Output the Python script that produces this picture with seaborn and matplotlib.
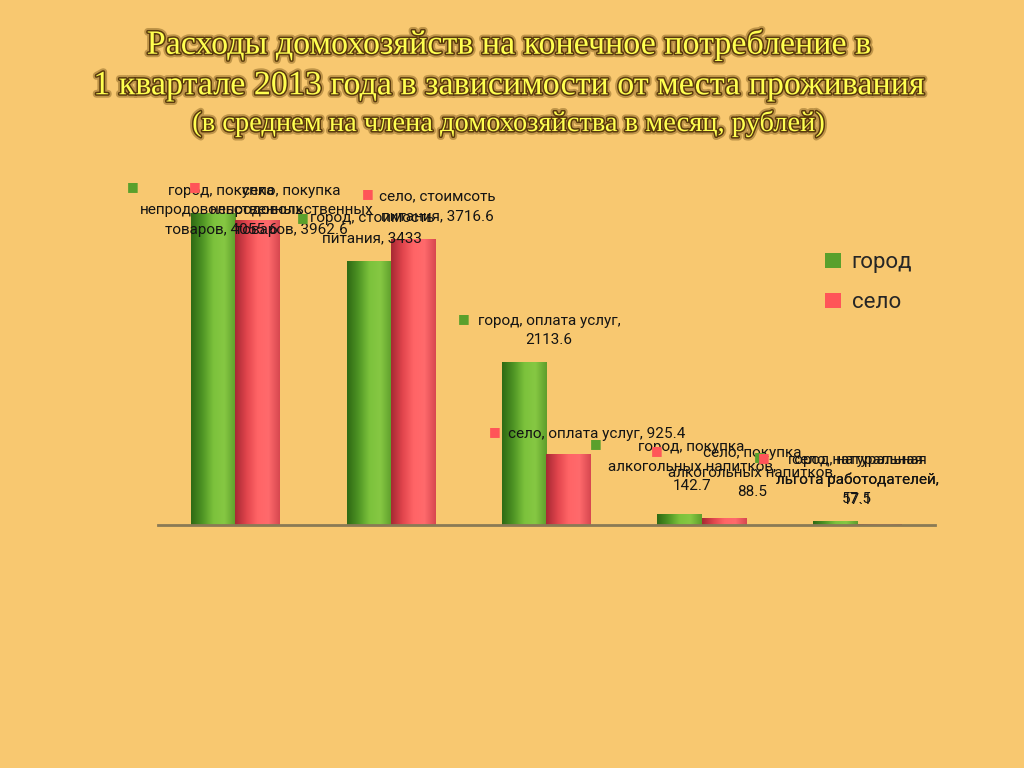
import numpy as np
import pandas as pd
import matplotlib
matplotlib.use("Agg")
import matplotlib.pyplot as plt
import matplotlib.patheffects as pe
from matplotlib.colors import LinearSegmentedColormap
import seaborn as sns

# ---------------- data ----------------
categories = ["непродовольственные товары", "питание", "услуги",
              "алкогольные напитки", "натуральная льгота"]
places = ["город", "село"]
gorod_values = [4055.6, 3433, 2113.6, 142.7, 57.5]
selo_values = [3962.6, 3716.6, 925.4, 88.5, 17.1]

gorod_labels = [
    "город, покупка\nнепродовольственных\nтоваров, {v}",
    "город, стоимость\nпитания, {v}",
    "город, оплата услуг,\n{v}",
    "город, покупка\nалкогольных напитков,\n{v}",
    "город, натуральная\nльгота работодателей,\n{v}",
]
selo_labels = [
    "село, покупка\nнепродовольственных\nтоваров, {v}",
    "село, стоимсоть\nпитания, {v}",
    "село, оплата услуг, {v}",
    "село, покупка\nалкогольных напитков,\n{v}",
    "село, натуральная\nльгота работодателей,\n{v}",
]

title_lines = ["Расходы домохозяйств на конечное потребление в",
               "1 квартале 2013 года в зависимости от места проживания"]
subtitle = "(в среднем на члена домохозяйства в месяц, рублей)"

# ---------------- style ----------------
BG = "#F8C870"
GREEN = "#5AA02C"
RED = "#FF5558"
sns.set_theme(style="white")
plt.rcParams["font.family"] = ["Roboto", "DejaVu Sans"]

df = pd.DataFrame({
    "category": categories * 2,
    "place": [places[0]] * len(categories) + [places[1]] * len(categories),
    "value": gorod_values + selo_values,
})

fig = plt.figure(figsize=(10.24, 7.68), dpi=100, facecolor=BG)
ax = fig.add_axes([0.154, 0.3164, 0.759, 0.4505])
ax.set_facecolor(BG)

sns.barplot(data=df, x="category", y="value", hue="place", order=categories,
            hue_order=places, palette=[GREEN, RED], width=0.57, ax=ax,
            saturation=1, edgecolor="none", linewidth=0)
ax.set_ylim(0, 4500)
ax.set_xlim(-0.5, len(categories) - 0.5)

# cylinder-like gradients
cm_green = LinearSegmentedColormap.from_list(
    "g", ["#2F6A14", "#4E9424", "#7CC23C", "#86C843", "#5E9E2C"])
cm_red = LinearSegmentedColormap.from_list(
    "r", ["#A82A34", "#E0444C", "#FF6466", "#FF6A6C", "#D84850"])
grad = np.linspace(0, 1, 64).reshape(1, -1)
for cont, cmap in zip(ax.containers, [cm_green, cm_red]):
    for p in cont:
        x0, w, h = p.get_x(), p.get_width(), p.get_height()
        im = ax.imshow(grad, extent=[x0, x0 + w, 0, h], aspect="auto",
                       cmap=cmap, zorder=p.get_zorder() + 0.1,
                       interpolation="bicubic")
        im.set_clip_path(p)
ax.set_ylim(0, 4500)
ax.set_xlim(-0.5, len(categories) - 0.5)

# axes cosmetics
for s in ["top", "right", "left"]:
    ax.spines[s].set_visible(False)
ax.spines["bottom"].set_color("#8A7A55")
ax.spines["bottom"].set_linewidth(2)
ax.set_xticks([])
ax.set_yticks([])
ax.set_xlabel("")
ax.set_ylabel("")

# ---------------- data labels ----------------
label_offsets = {
    0: [(8, 3), (3, 33), (25, 32), (12, 48), (22, 41)],
    1: [(34, 10), (24, 33), (28, 20), (28, 46), (-22, 44)],
}
square_offsets = {
    0: [(-81, 27), (-66, 44), (-60, 44), (-84, 70), (-75, 64)],
    1: [(-63, 34), (-45, 46), (-74, 22), (-67, 68), (-116, 66)],
}
label_sets = [gorod_labels, selo_labels]
value_sets = [gorod_values, selo_values]
colors = [GREEN, RED]
for si, cont in enumerate(ax.containers):
    for ci, p in enumerate(cont):
        xc = p.get_x() + p.get_width() / 2
        yt = p.get_height()
        txt = label_sets[si][ci].format(v=f"{value_sets[si][ci]:g}")
        dx, dy = label_offsets[si][ci]
        ax.annotate(txt, xy=(xc, yt), xytext=(dx, dy),
                    textcoords="offset pixels", ha="center", va="center",
                    fontsize=11, color="#141414", linespacing=1.5,
                    annotation_clip=False, zorder=10)
        sx, sy = square_offsets[si][ci]
        ax.annotate("■", xy=(xc, yt), xytext=(sx, sy),
                    textcoords="offset pixels", ha="center", va="center",
                    fontsize=9, color=colors[si], family="DejaVu Sans",
                    annotation_clip=False, zorder=11)

# ---------------- legend ----------------
handles, labels = ax.get_legend_handles_labels()
leg = ax.legend(handles, labels, loc="upper left", bbox_to_anchor=(0.833, 0.846),
                frameon=False, fontsize=16, handlelength=0.7, handleheight=0.7,
                handletextpad=0.5, labelspacing=0.85)

# ---------------- title ----------------
title_fx = [pe.Stroke(linewidth=5, foreground="#9A7430", alpha=0.6),
            pe.Stroke(linewidth=2.2, foreground="#5A3A0E"), pe.Normal()]
fig.text(0.497, 1 - 45 / 768, title_lines[0], ha="center", va="center",
         fontsize=24.5, family="Liberation Serif", color="#FFFF50",
         path_effects=title_fx)
fig.text(0.497, 1 - 86 / 768, title_lines[1], ha="center", va="center",
         fontsize=24.5, family="Liberation Serif", color="#FFFF50",
         path_effects=title_fx)
fig.text(0.497, 1 - 124 / 768, subtitle, ha="center", va="center",
         fontsize=20.5, family="Liberation Serif", color="#FFFF50",
         path_effects=title_fx)

fig.savefig("out.png", dpi=100, facecolor=BG)
